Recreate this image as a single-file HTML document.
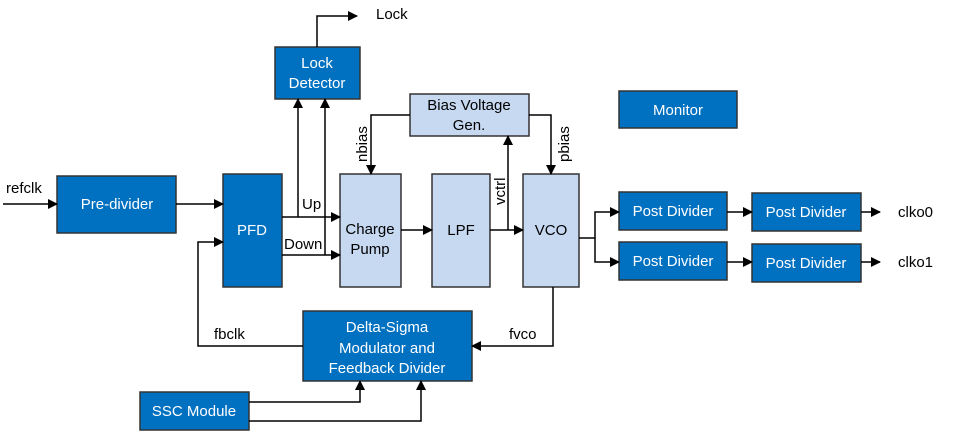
<!DOCTYPE html>
<html><head><meta charset="utf-8"><style>
html,body{margin:0;padding:0;background:#fff;}
svg text{font-family:"Liberation Sans",sans-serif;}
</style></head><body>
<svg width="953" height="437" viewBox="0 0 953 437" xmlns="http://www.w3.org/2000/svg">
<defs><marker id="a" markerWidth="10" markerHeight="10" refX="9" refY="5" orient="auto" markerUnits="userSpaceOnUse"><path d="M0,0 L10,5 L0,10 z" fill="#000"/></marker></defs>
<g stroke="#333" stroke-width="1.5">
<rect x="275" y="47" width="85" height="52" fill="#0070C0"/>
<rect x="57" y="176" width="119" height="57" fill="#0070C0"/>
<rect x="223" y="174" width="59" height="113" fill="#0070C0"/>
<rect x="340" y="174" width="61" height="113" fill="#C6D9F1"/>
<rect x="432" y="174" width="58" height="113" fill="#C6D9F1"/>
<rect x="523" y="174" width="56" height="113" fill="#C6D9F1"/>
<rect x="410" y="94" width="119" height="42" fill="#C6D9F1"/>
<rect x="619" y="91" width="118" height="37" fill="#0070C0"/>
<rect x="619" y="192" width="108" height="38" fill="#0070C0"/>
<rect x="619" y="242" width="108" height="38" fill="#0070C0"/>
<rect x="752" y="193" width="109" height="38" fill="#0070C0"/>
<rect x="752" y="244" width="109" height="38" fill="#0070C0"/>
<rect x="303" y="311" width="169" height="70" fill="#0070C0"/>
<rect x="140" y="392" width="109" height="38" fill="#0070C0"/>
</g>
<g stroke="#000" stroke-width="1.5" fill="none">
<path d="M317 47 V16 H357" marker-end="url(#a)"/>
<path d="M3 204 H57" marker-end="url(#a)"/>
<path d="M176 204 H223" marker-end="url(#a)"/>
<path d="M303 346 H198 V242 H223" marker-end="url(#a)"/>
<path d="M282 217 H340" marker-end="url(#a)"/>
<path d="M282 255 H340" marker-end="url(#a)"/>
<path d="M298 217 V99" marker-end="url(#a)"/>
<path d="M325 255 V99" marker-end="url(#a)"/>
<path d="M401 230 H432" marker-end="url(#a)"/>
<path d="M490 230 H523" marker-end="url(#a)"/>
<path d="M508 230 V136" marker-end="url(#a)"/>
<path d="M410 115 H371 V174" marker-end="url(#a)"/>
<path d="M529 115 H551 V174" marker-end="url(#a)"/>
<path d="M579 238 H595 V212 H619" marker-end="url(#a)"/>
<path d="M595 238 V262 H619" marker-end="url(#a)"/>
<path d="M727 212 H752" marker-end="url(#a)"/>
<path d="M727 262 H752" marker-end="url(#a)"/>
<path d="M861 212 H880" marker-end="url(#a)"/>
<path d="M861 262 H880" marker-end="url(#a)"/>
<path d="M553 287 V346 H472" marker-end="url(#a)"/>
<path d="M249 402 H360 V381" marker-end="url(#a)"/>
<path d="M249 421 H421 V381" marker-end="url(#a)"/>
</g>
<g fill="#fff" font-size="15" text-anchor="middle">
<text x="317" y="68">Lock</text><text x="317" y="88">Detector</text>
<text x="117" y="209">Pre-divider</text>
<text x="252" y="235">PFD</text>
<text x="678" y="115">Monitor</text>
<text x="673" y="216">Post Divider</text>
<text x="673" y="266">Post Divider</text>
<text x="806" y="217">Post Divider</text>
<text x="806" y="268">Post Divider</text>
<text x="387" y="332">Delta-Sigma</text>
<text x="387" y="353">Modulator and</text>
<text x="387" y="373">Feedback Divider</text>
<text x="194" y="416">SSC Module</text>
</g>
<g fill="#000" font-size="15">
<text x="376" y="19">Lock</text>
<text x="6" y="193">refclk</text>
<text x="302" y="209">Up</text>
<text x="284" y="249">Down</text>
<text x="370" y="234" text-anchor="middle">Charge</text>
<text x="370" y="254" text-anchor="middle">Pump</text>
<text x="461" y="235" text-anchor="middle">LPF</text>
<text x="551" y="235" text-anchor="middle">VCO</text>
<text x="469" y="110" text-anchor="middle">Bias Voltage</text>
<text x="469" y="130" text-anchor="middle">Gen.</text>
<text transform="translate(367,162) rotate(-90)">nbias</text>
<text transform="translate(569,162) rotate(-90)">pbias</text>
<text transform="translate(505,205) rotate(-90)">vctrl</text>
<text x="898" y="217">clko0</text>
<text x="898" y="267">clko1</text>
<text x="214" y="339">fbclk</text>
<text x="509" y="339">fvco</text>
</g>
</svg>
</body></html>
